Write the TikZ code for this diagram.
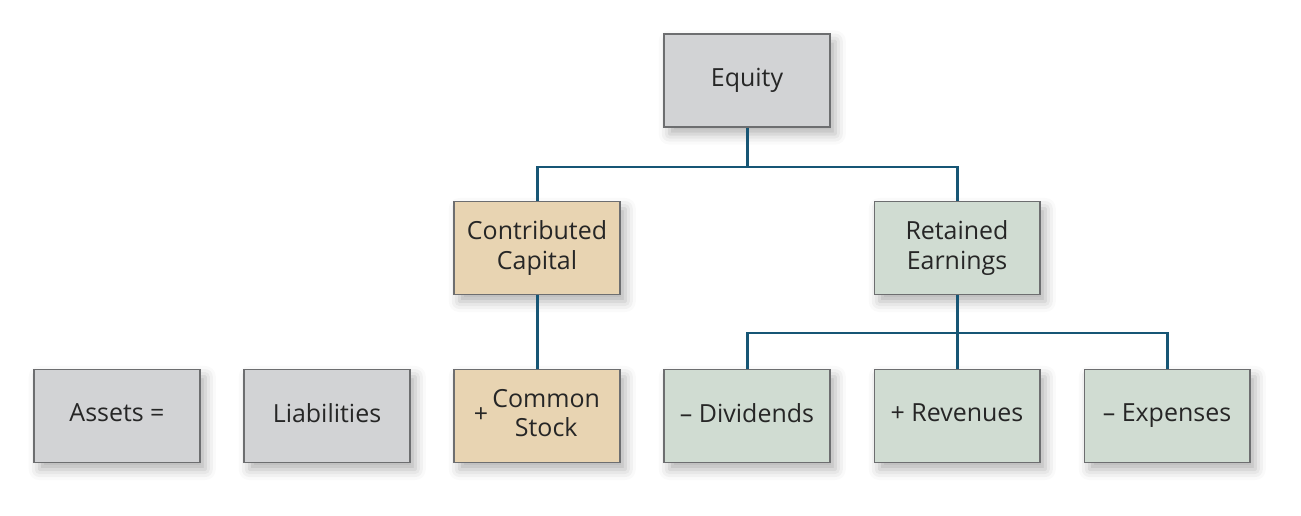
\documentclass[tikz,border=0pt]{standalone}
\usepackage{fontspec}
\usepackage{tikz}
\setmainfont{Open Sans}
\usetikzlibrary{positioning}
\usetikzlibrary{shadows.blur}
\definecolor{boxgray}{HTML}{D2D3D5}
\definecolor{boxtan}{HTML}{E8D4B2}
\definecolor{boxgreen}{HTML}{D0DCD2}
\definecolor{edgegray}{HTML}{6D6E70}
\definecolor{linkblue}{HTML}{175675}
\tikzset{account/.style = {draw=edgegray, line width=0.6pt, fill=boxgray,
                           minimum width=3.32cm, minimum height=1.86cm,
                           inner sep=0pt, align=center,
                           execute at begin node=\vphantom{Eg},
                           font=\fontsize{14.2}{17}\selectfont, text=black!85,
                           blur shadow={shadow blur radius=6pt, shadow xshift=3pt,
                                        shadow yshift=-4pt, shadow opacity=30}},
         capital/.style = {account, fill=boxtan},
         earnings/.style = {account, fill=boxgreen},
         link/.style = {draw=linkblue, line width=1.7pt}}

\begin{document}
\begin{tikzpicture}[x=0.02cm, y=-0.02cm]
    \useasboundingbox (0,0) rectangle (1301,516);

    \node[account] (equity) at (747,80.5) {Equity};
    \node[capital] (contrib) at (537,248) {Contributed\\Capital};
    \node[earnings] (retained) at (957,248) {Retained\\Earnings};

    \node[account] (assets) at (117,416) {Assets =};
    \node[account] (liab) at (327,416) {Liabilities};
    \node[capital] (stock) at (537,416) {+\,\begin{tabular}{@{}c@{}}Common\\Stock\end{tabular}};
    \node[earnings] (divid) at (747,416) {\textendash{} Dividends};
    \node[earnings] (revenue) at (957,416) {+ Revenues};
    \node[earnings] (expense) at (1167,416) {\textendash{} Expenses};

    \coordinate (eqsplit) at (747,167);
    \coordinate (resplit) at (957,333);

    \draw[link] (equity.south) -- (eqsplit);
    \draw[link] (contrib.north) |- (eqsplit) -| (retained.north);
    \draw[link] (contrib.south) -- (stock.north);
    \draw[link] (retained.south) -- (revenue.north);
    \draw[link] (divid.north) |- (resplit) -| (expense.north);
\end{tikzpicture}
\end{document}
